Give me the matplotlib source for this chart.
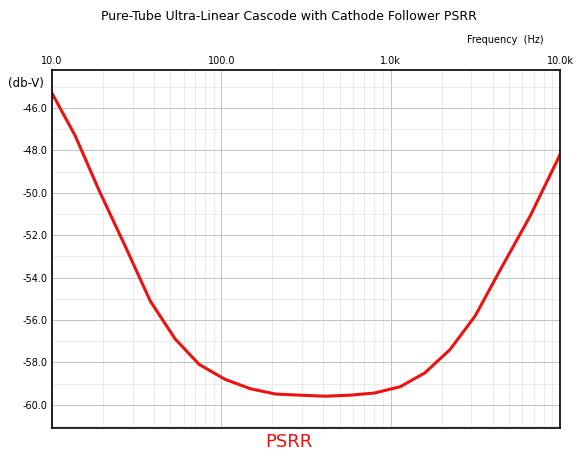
import numpy as np
import matplotlib.pyplot as plt
from matplotlib.ticker import FixedLocator, NullFormatter

freq = [10, 13.7, 19, 27, 38, 53.4, 74, 105, 149, 210, 290, 410, 575, 800, 1140, 1590, 2240, 3160, 4460, 6660, 10000]
psrr = [-45.3, -47.3, -49.9, -52.5, -55.1, -56.9, -58.1, -58.8, -59.25, -59.5, -59.55, -59.6, -59.55, -59.45, -59.15, -58.5, -57.4, -55.8, -53.6, -51.1, -48.2]
xticks = [10, 100, 1000, 10000]
xlabels = ['10.0', '100.0', '1.0k', '10.0k']
yticks = [-46, -48, -50, -52, -54, -56, -58, -60]

fig = plt.figure(figsize=(5.78, 4.59), dpi=100)
ax = fig.add_axes([52/578, 1-428/459, 508/578, 358/459])
ax.plot(freq, psrr, color='#ee1111', lw=2.2, solid_joinstyle='round')
ax.set_xscale('log')
ax.set_xlim(10, 10000)
ax.set_ylim(-61.1, -44.2)
ax.xaxis.tick_top()
ax.set_xticks(xticks)
ax.set_xticklabels(xlabels, fontsize=7)
minors = [m*d for d in [10, 100, 1000] for m in range(2, 10)]
ax.xaxis.set_minor_locator(FixedLocator(minors))
ax.xaxis.set_minor_formatter(NullFormatter())
ax.set_yticks(yticks)
ax.set_yticklabels(['%.1f' % v for v in yticks], fontsize=7)
ax.yaxis.set_minor_locator(FixedLocator(np.arange(-61, -44, 1.0)))
ax.grid(which='major', color='#c4c4c4', lw=0.7)
ax.grid(which='minor', color='#e2e2e2', lw=0.5)
ax.tick_params(length=0, which='both', pad=3)
for s in ax.spines.values():
    s.set_color('black')
    s.set_linewidth(1.2)

fig.text(0.5, 1-17/459, 'Pure-Tube Ultra-Linear Cascode with Cathode Follower PSRR',
         ha='center', va='center', fontsize=9)
fig.text(505/578, 1-40/459, 'Frequency  (Hz)', ha='center', va='center', fontsize=7)
fig.text(8/578, 1-83/459, '(db-V)', ha='left', va='center', fontsize=8.5)
fig.text(0.5, 1-442/459, 'PSRR', ha='center', va='center', fontsize=13, color='#ee1111')
fig.savefig('out.png')
